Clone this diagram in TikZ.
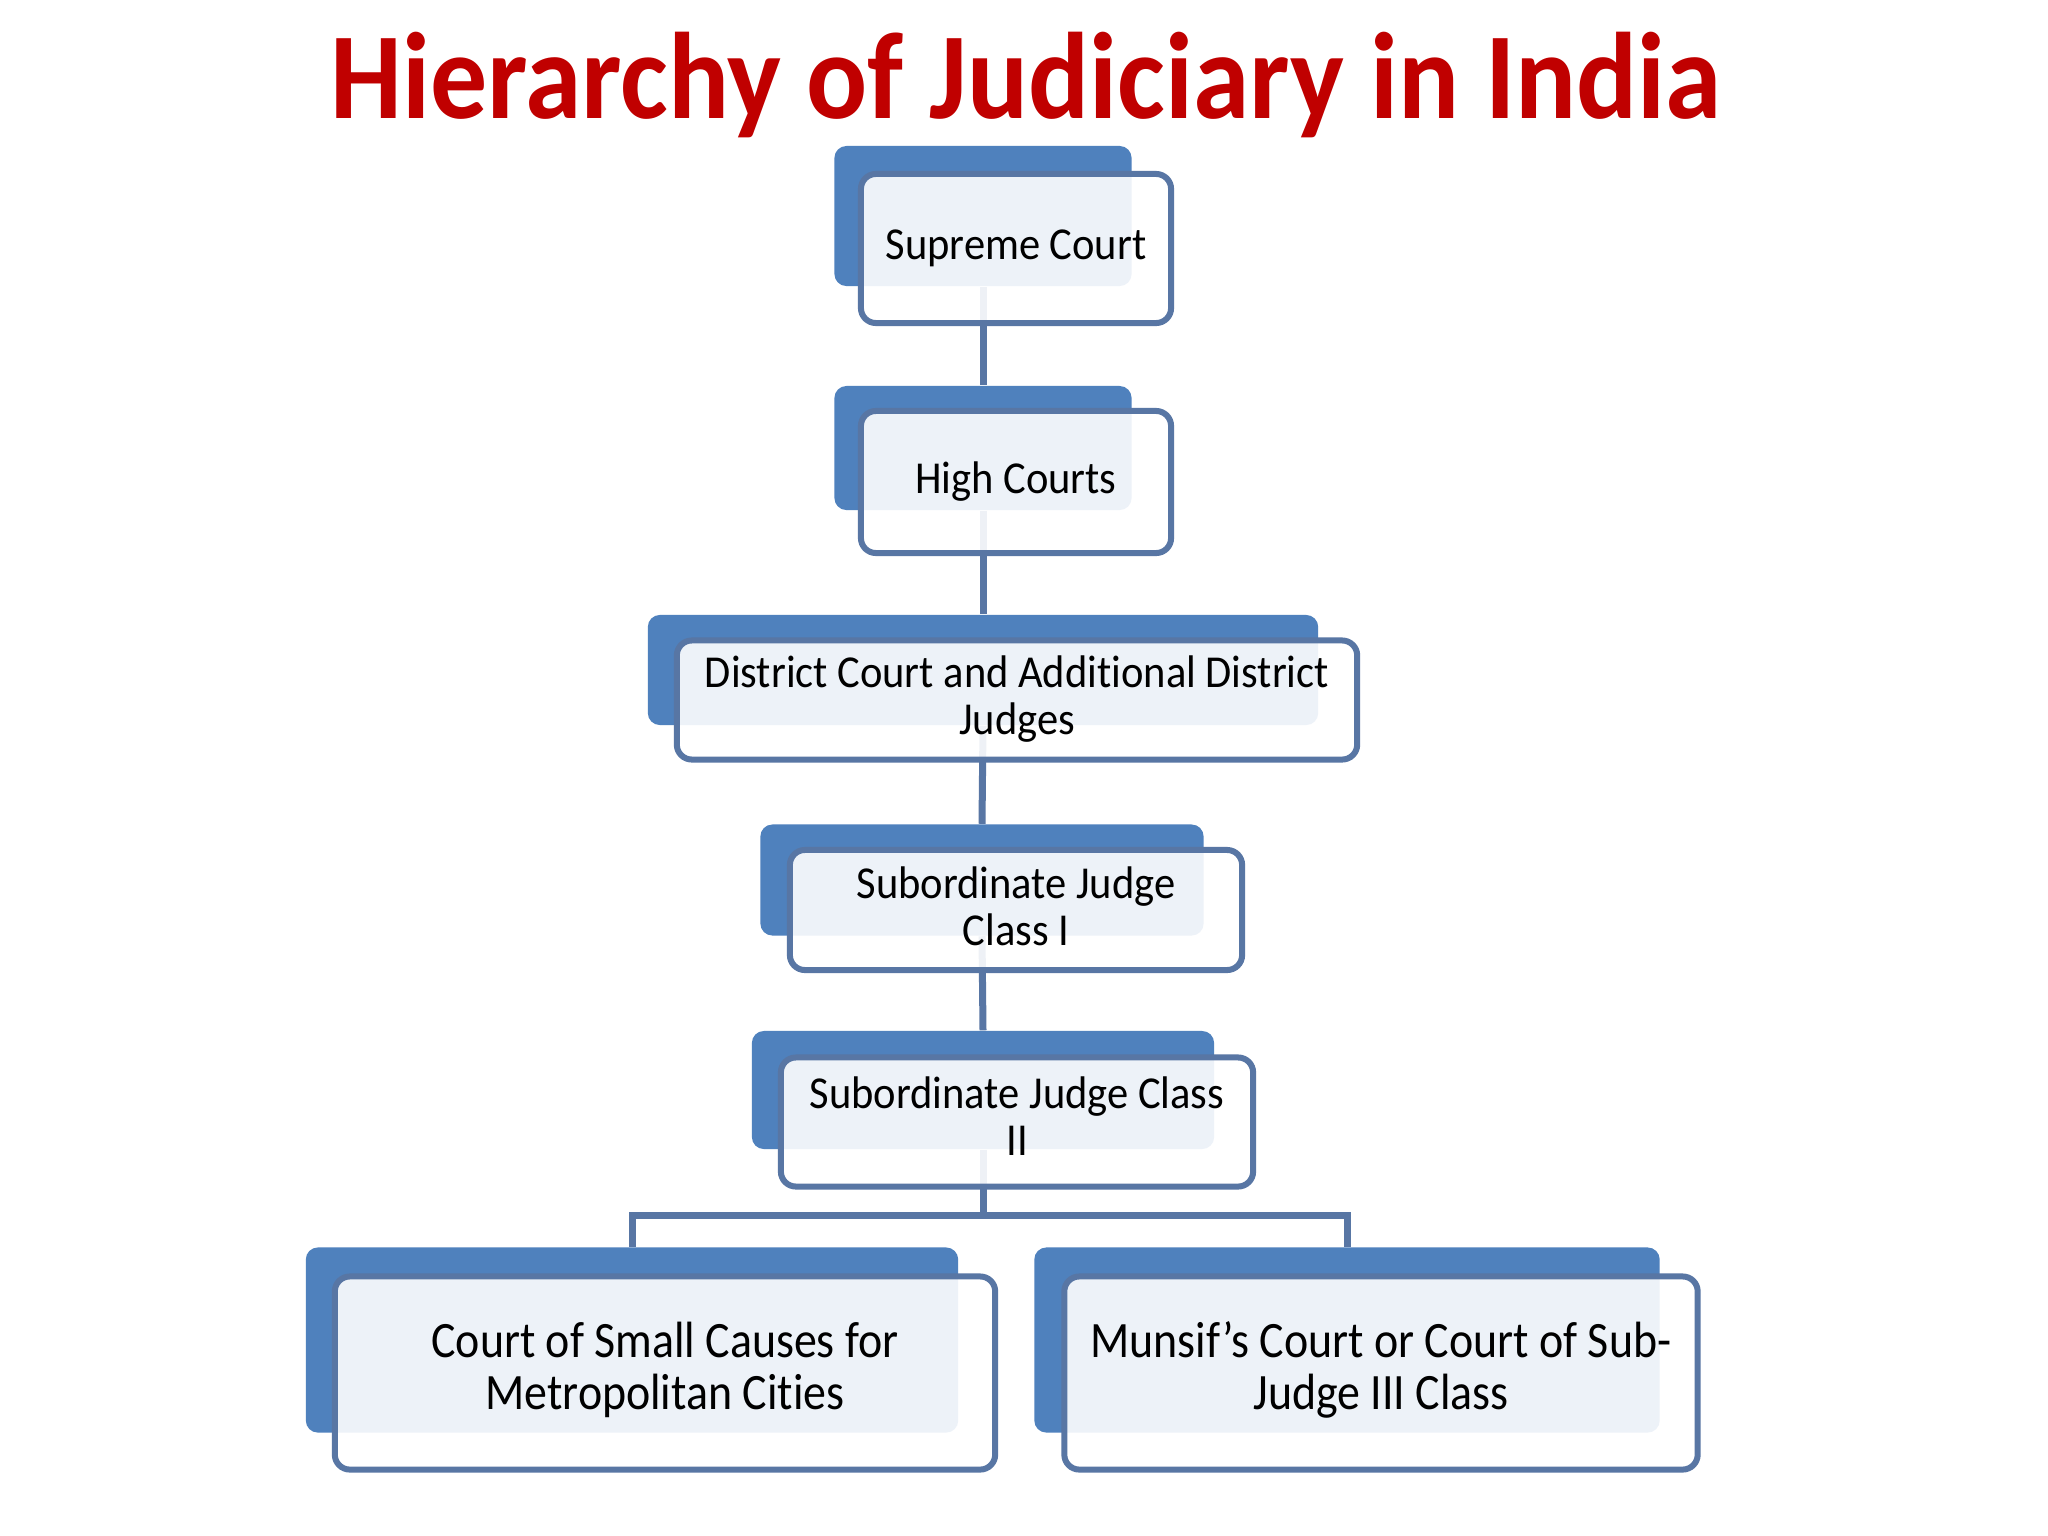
\documentclass[tikz,border=0pt]{standalone}
\usepackage{fontspec}
\setmainfont{Carlito}
\newfontfamily\titlefont[FakeStretch=0.925]{Carlito}
\newfontfamily\boxfont[FakeStretch=0.93, Ligatures=NoCommon]{Carlito}
\newfontfamily\bigboxfont[FakeStretch=0.9, Ligatures=NoCommon]{Carlito}
\usepackage{tikz}
\usetikzlibrary{calc}
\definecolor{backblue}{RGB}{79,129,189}
\definecolor{frameblue}{RGB}{88,118,164}
\definecolor{titlered}{RGB}{192,0,0}
\tikzset{
	backbox/.style={fill=backblue, rounded corners=0.12cm, inner sep=0pt},
	frontbox/.style={draw=frameblue, line width=0.06cm, fill=white, fill opacity=0.9, text opacity=1, rounded corners=0.15cm, inner sep=0pt, align=center, font=\boxfont\fontsize{13}{13.4}\selectfont},
	lifted/.style={text depth=#1},
	bigbox/.style={frontbox, lifted=4pt, font=\bigboxfont\fontsize{14.5}{14.8}\selectfont},
	link/.style={draw=frameblue, line width=0.07cm}
}

\begin{document}
\begin{tikzpicture}[x=0.01cm, y=-0.01cm]
		%%%%% START %%%%%
		\useasboundingbox[fill=white] (0, 0) rectangle (2048, 1536);
		
		\node[font=\titlefont\fontsize{35}{40}\selectfont\bfseries, text=titlered, anchor=base] (title) at (1026, 118) {Hierarchy of Judiciary in India};
		
		% back plates
		\node[backbox, minimum width=2.97cm, minimum height=1.40cm] (scBack) at (983, 216) {};
		\node[backbox, minimum width=2.97cm, minimum height=1.24cm] (hcBack) at (983, 448) {};
		\node[backbox, minimum width=6.70cm, minimum height=1.10cm] (dcBack) at (983, 670) {};
		\node[backbox, minimum width=4.43cm, minimum height=1.11cm] (sjOneBack) at (982, 880) {};
		\node[backbox, minimum width=4.62cm, minimum height=1.18cm] (sjTwoBack) at (983, 1090) {};
		\node[backbox, minimum width=6.52cm, minimum height=1.85cm] (smallBack) at (632, 1340) {};
		\node[backbox, minimum width=6.25cm, minimum height=1.85cm] (munsifBack) at (1347, 1340) {};
		
		% connectors
		\draw[link] (scBack.south) -- (hcBack.north);
		\draw[link] (hcBack.south) -- (dcBack.north);
		\draw[link] (dcBack.south) -- (sjOneBack.north);
		\draw[link] (sjOneBack.south) -- (sjTwoBack.north);
		\coordinate (split) at (983, 1215);
		\draw[link] (sjTwoBack.south) -- (split);
		\draw[link] (smallBack.north) |- (split) -| (munsifBack.north);
		
		% front boxes
		\node[frontbox, minimum width=3.10cm, minimum height=1.49cm] (sc) at (1016, 248.5) {Supreme Court};
		\node[frontbox, minimum width=3.10cm, minimum height=1.42cm] (hc) at (1016, 482) {High Courts};
		\node[frontbox, lifted=2.6pt, minimum width=6.80cm, minimum height=1.19cm] (dc) at (1017, 700) {District Court and Additional District\\Judges};
		\node[frontbox, lifted=2.2pt, minimum width=4.52cm, minimum height=1.20cm] (sjOne) at (1016, 910) {Subordinate Judge\\Class I};
		\node[frontbox, lifted=3.3pt, minimum width=4.72cm, minimum height=1.29cm] (sjTwo) at (1017, 1122) {Subordinate Judge Class\\II};
		\node[bigbox, minimum width=6.60cm, minimum height=1.93cm] (small) at (665, 1373) {Court of Small Causes for\\Metropolitan Cities};
		\node[bigbox, minimum width=6.33cm, minimum height=1.93cm] (munsif) at (1381, 1373) {Munsif’s Court or Court of Sub-\\Judge III Class};
		
		%%%%% END %%%%%
	\end{tikzpicture}
\end{document}
